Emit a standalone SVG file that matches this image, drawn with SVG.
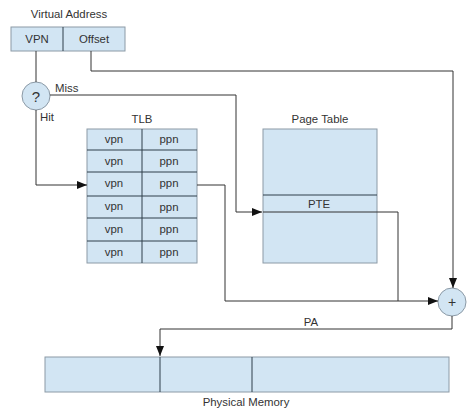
<svg xmlns="http://www.w3.org/2000/svg" width="474" height="420" viewBox="0 0 474 420">
<style>
.box{fill:#d2e5f3;stroke:#8c9aa6;stroke-width:1}
.div{stroke:#2f3f4a;stroke-width:1}
.ln{fill:none;stroke:#333;stroke-width:1}
text{font-family:"Liberation Sans",Arial,sans-serif;font-size:11.4px;fill:#333;text-anchor:middle}
</style>
<defs>
<marker id="ar" viewBox="0 0 10 8" refX="10" refY="4" markerWidth="10" markerHeight="8" markerUnits="userSpaceOnUse" orient="auto">
<path d="M0,0 L10,4 L0,8 Z" fill="#111"/>
</marker>
</defs>
<rect width="474" height="420" fill="#fff"/>
<g id="virtual-address">
<text x="69" y="18">Virtual Address</text>
<rect class="box" x="11" y="27" width="114" height="24"/>
<line class="div" x1="63" y1="27" x2="63" y2="51"/>
<text x="37" y="43">VPN</text>
<text x="94" y="43">Offset</text>
</g>
<g id="check">
<circle class="box" cx="36" cy="96" r="14"/>
<text x="36" y="101.5" style="font-size:15px">?</text>
</g>
<g id="tlb">
<text x="142" y="123">TLB</text>
<rect class="box" x="87" y="129" width="110" height="134"/>
<line class="div" x1="142" y1="129" x2="142" y2="263"/>
<line class="div" x1="87" y1="150" x2="197" y2="150"/>
<line class="div" x1="87" y1="172" x2="197" y2="172"/>
<line class="div" x1="87" y1="196" x2="197" y2="196"/>
<line class="div" x1="87" y1="218" x2="197" y2="218"/>
<line class="div" x1="87" y1="241" x2="197" y2="241"/>
<text x="114" y="143">vpn</text><text x="169" y="143">ppn</text>
<text x="114" y="165">vpn</text><text x="169" y="165">ppn</text>
<text x="114" y="187">vpn</text><text x="169" y="187">ppn</text>
<text x="114" y="210">vpn</text><text x="169" y="211">ppn</text>
<text x="114" y="233">vpn</text><text x="169" y="233">ppn</text>
<text x="114" y="256">vpn</text><text x="169" y="256">ppn</text>
</g>
<g id="page-table">
<text x="320" y="123">Page Table</text>
<rect class="box" x="263" y="129" width="114" height="134"/>
<line class="div" x1="263" y1="195" x2="377" y2="195"/>
<text x="319" y="208">PTE</text>
</g>
<g id="adder">
<circle class="box" cx="452" cy="302" r="14"/>
<text x="452" y="307" style="font-size:14px">+</text>
</g>
<g id="physical-memory">
<rect class="box" x="45" y="357" width="404" height="35"/>
<line class="div" x1="160" y1="357" x2="160" y2="392"/>
<line class="div" x1="252" y1="357" x2="252" y2="392"/>
<text x="246" y="406">Physical Memory</text>
</g>
<g id="connectors">
<path class="ln" d="M36,51 V82"/>
<path class="ln" d="M91,51 V71 H453 V288" marker-end="url(#ar)"/>
<path class="ln" d="M50,95 H236 V212 H262" marker-end="url(#ar)"/>
<path class="ln" d="M36,110 V185 H87" marker-end="url(#ar)"/>
<path class="ln" d="M197,185 H225 V301 H438" marker-end="url(#ar)"/>
<path class="ln" d="M263,212 H398 V301"/>
<path class="ln" d="M452,316 V329 H160 V356" marker-end="url(#ar)"/>
<text x="55" y="92" style="text-anchor:start">Miss</text>
<text x="40" y="121" style="text-anchor:start">Hit</text>
<text x="311" y="326">PA</text>
</g>
</svg>
